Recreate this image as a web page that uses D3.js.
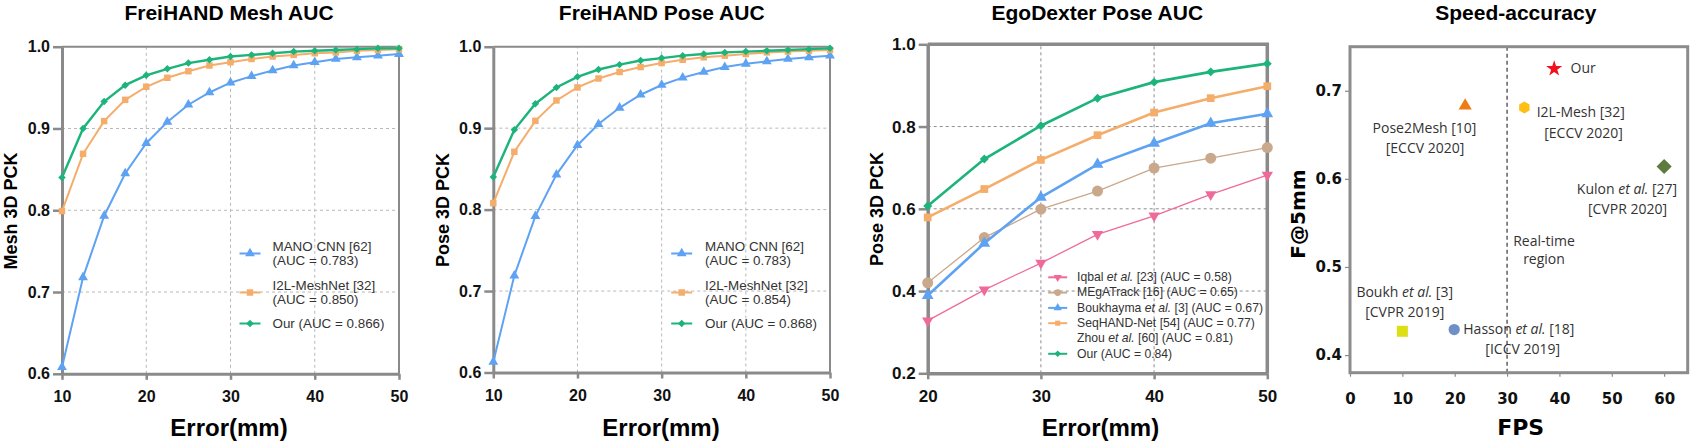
<!DOCTYPE html>
<html lang="en">
<head>
<meta charset="UTF-8">
<title>Hand mesh AUC charts</title>
<script src="https://d3js.org/d3.v7.min.js"></script>
<style>
  body { margin: 0; background: #fff; }
  svg { display: block; }
</style>
</head>
<body>
<div id="chart"></div>
<script>
// ---- data ----
const freiErr = [10, 12.5, 15, 17.5, 20, 22.5, 25, 27.5, 30, 32.5, 35, 37.5, 40, 42.5, 45, 47.5, 50];
const meshMano = [0.608, 0.718, 0.793, 0.845, 0.882, 0.908, 0.929, 0.944, 0.956, 0.964, 0.971, 0.977, 0.981, 0.985, 0.987, 0.989, 0.991];
const meshI2L  = [0.799, 0.869, 0.909, 0.935, 0.951, 0.962, 0.970, 0.977, 0.981, 0.985, 0.988, 0.990, 0.992, 0.993, 0.995, 0.996, 0.997];
const meshOur  = [0.840, 0.900, 0.933, 0.953, 0.965, 0.973, 0.980, 0.984, 0.988, 0.990, 0.992, 0.994, 0.995, 0.996, 0.997, 0.998, 0.998];
const poseMano = [0.613, 0.719, 0.792, 0.843, 0.879, 0.905, 0.925, 0.941, 0.953, 0.962, 0.969, 0.975, 0.979, 0.982, 0.985, 0.987, 0.989];
const poseI2L  = [0.808, 0.871, 0.909, 0.934, 0.950, 0.961, 0.969, 0.975, 0.980, 0.984, 0.987, 0.989, 0.991, 0.993, 0.994, 0.995, 0.996];
const poseOur  = [0.840, 0.898, 0.930, 0.950, 0.963, 0.972, 0.978, 0.983, 0.986, 0.989, 0.991, 0.993, 0.994, 0.995, 0.996, 0.997, 0.998];

const egoErr   = [20, 25, 30, 35, 40, 45, 50];
const egoIqbal = [0.328, 0.403, 0.468, 0.538, 0.583, 0.635, 0.682];
const egoMega  = [0.420, 0.530, 0.599, 0.643, 0.699, 0.723, 0.749];
const egoBoukh = [0.389, 0.516, 0.628, 0.708, 0.759, 0.808, 0.831];
const egoSeq   = [0.579, 0.648, 0.719, 0.779, 0.834, 0.869, 0.898];
const egoOur   = [0.607, 0.721, 0.802, 0.869, 0.908, 0.933, 0.953];

const speedNames = ["Our", "I2L-Mesh", "Pose2Mesh", "Kulon", "Boukh", "Hasson"];
const speedFps   = [39, 33.3, 22, 60, 10, 19.9];
const speedF5    = [0.725, 0.681, 0.683, 0.614, 0.427, 0.429];

const SANS = "'Liberation Sans', Arial, sans-serif";
const WIDE = "'DejaVu Sans', Verdana, sans-serif";
const NOTE = "'Open Sans', 'Noto Sans', sans-serif";
const BLUE = "#5ea2f3", ORANGE = "#f4ad6a", GREEN = "#1cb47b", PINK = "#ef6a9b", TAN = "#c9a88b";

const svg = d3.select("#chart").append("svg").attr("width", 1707).attr("height", 446);

function marker(g, kind, cx, cy, size, color) {
    let type = d3.symbolCircle, rot = 0;
    if (kind === "tri") type = d3.symbolTriangle;
    if (kind === "tridown") { type = d3.symbolTriangle; rot = 180; }
    if (kind === "square") type = d3.symbolSquare;
    if (kind === "diamond") { type = d3.symbolSquare; rot = 45; }
    if (kind === "star") type = d3.symbolStar;
    g.append("path")
        .attr("d", d3.symbol().type(type).size(size)())
        .attr("transform", `translate(${cx},${cy}) rotate(${rot})`)
        .attr("fill", color);
}

function labelText(g, parts, x, y, size, family, anchor) {
    // parts: array of [text, italic]
    const t = g.append("text").attr("x", x).attr("y", y)
        .attr("font-family", family).attr("font-size", size)
        .attr("fill", "#333").attr("text-anchor", anchor || "start");
    parts.forEach(p => t.append("tspan").attr("font-style", p[1] ? "italic" : null).text(p[0]));
    return t;
}

function linePanel(o) {
    const g = svg.append("g");
    const x = d3.scaleLinear().domain(o.xd).range(o.xr);
    const y = d3.scaleLinear().domain(o.yd).range(o.yr);

    // dashed grid
    o.xGrid.forEach(v => g.append("line")
        .attr("x1", x(v)).attr("x2", x(v)).attr("y1", o.yr[0]).attr("y2", o.yr[1])
        .attr("stroke", o.gridColor).attr("stroke-width", 1).attr("stroke-dasharray", "3,3"));
    o.yGrid.forEach(v => g.append("line")
        .attr("y1", y(v)).attr("y2", y(v)).attr("x1", o.xr[0]).attr("x2", o.xr[1])
        .attr("stroke", o.gridColor).attr("stroke-width", 1).attr("stroke-dasharray", "3,3"));

    // top / right border
    g.append("path")
        .attr("d", `M${o.xr[0]},${o.yr[1]}H${o.xr[1]}V${o.yr[0]}`)
        .attr("fill", "none").attr("stroke", "#8a8a8a").attr("stroke-width", o.frameW);

    const ax = g.append("g").attr("transform", `translate(0,${o.yr[0]})`)
        .call(d3.axisBottom(x).tickValues(o.xTicks).tickSize(6).tickSizeOuter(0).tickPadding(o.xPad));
    const ay = g.append("g").attr("transform", `translate(${o.xr[0]},0)`)
        .call(d3.axisLeft(y).tickValues(o.yTicks).tickSize(9).tickSizeOuter(0).tickPadding(3)
            .tickFormat(d3.format(".1f")));
    [ax, ay].forEach(a => {
        a.select(".domain").attr("stroke", "#8a8a8a").attr("stroke-width", o.axisW);
        a.selectAll(".tick line").attr("stroke", "#8a8a8a").attr("stroke-width", 2.5);
        a.selectAll(".tick text").attr("font-family", SANS).attr("font-weight", "bold")
            .attr("font-size", o.tickFont).attr("fill", "#111");
    });

    // series
    o.series.forEach(s => {
        g.append("path").datum(s.values)
            .attr("d", d3.line().x((d, i) => x(o.xs[i])).y(d => y(d)))
            .attr("fill", "none").attr("stroke", s.color).attr("stroke-width", s.width);
        s.values.forEach((v, i) => marker(g, s.shape, x(o.xs[i]), y(v), s.size, s.color));
    });

    // legend
    o.legend.forEach(l => {
        if (l.color) {
            g.append("line").attr("x1", o.legX - o.legLen / 2).attr("x2", o.legX + o.legLen / 2)
                .attr("y1", l.my).attr("y2", l.my).attr("stroke", l.color).attr("stroke-width", 2);
            marker(g, l.shape, o.legX, l.my, l.size, l.color);
        }
        l.lines.forEach((ln, k) => labelText(g, ln, o.legTextX, l.y + k * o.legLead, o.legFont, SANS));
    });

    // titles
    g.append("text").attr("x", o.titleX).attr("y", 19.5).attr("text-anchor", "middle")
        .attr("font-family", SANS).attr("font-weight", "bold").attr("font-size", 21).text(o.title);
    g.append("text").attr("x", o.xLabelX).attr("y", 436).attr("text-anchor", "middle")
        .attr("font-family", SANS).attr("font-weight", "bold").attr("font-size", 24).text("Error(mm)");
    g.append("text").attr("transform", `translate(${o.yLabelX},${o.yLabelY}) rotate(-90)`)
        .attr("text-anchor", "middle").attr("font-family", SANS).attr("font-weight", "bold")
        .attr("font-size", 18).text(o.yLabel);
}

function freiSeries(mano, i2l, our) {
    return [
        { values: mano, color: BLUE, shape: "tri", size: 42, width: 2 },
        { values: i2l, color: ORANGE, shape: "square", size: 42, width: 2 },
        { values: our, color: GREEN, shape: "diamond", size: 28, width: 2.4 }
    ];
}
function freiLegend(i2lAuc, ourAuc) {
    return [
        { color: BLUE, shape: "tri", size: 42, my: 253.5, y: 250.5,
          lines: [[["MANO CNN [62]"]], [["(AUC = 0.783)"]]] },
        { color: ORANGE, shape: "square", size: 42, my: 292.5, y: 289.5,
          lines: [[["I2L-MeshNet [32]"]], [["(AUC = " + i2lAuc + ")"]]] },
        { color: GREEN, shape: "diamond", size: 28, my: 323.5, y: 328.3,
          lines: [[["Our (AUC = " + ourAuc + ")"]]] }
    ];
}

const freiCommon = {
    xd: [10, 50], yd: [0.6, 1.0], xs: freiErr,
    xTicks: [10, 20, 30, 40, 50], yTicks: [0.6, 0.7, 0.8, 0.9, 1.0],
    xGrid: [20, 30, 40], yGrid: [0.7, 0.8, 0.9], gridColor: "#b8b8b8",
    frameW: 2, axisW: 3, tickFont: 16, xPad: 11,
    legLen: 21, legLead: 14.5, legFont: 13.4
};

linePanel(Object.assign({}, freiCommon, {
    xr: [62, 399], yr: [373.8, 46.7],
    series: freiSeries(meshMano, meshI2L, meshOur),
    legX: 250, legTextX: 272.5, legend: freiLegend("0.850", "0.866"),
    title: "FreiHAND Mesh AUC", titleX: 229, xLabelX: 229,
    yLabel: "Mesh 3D PCK", yLabelX: 17, yLabelY: 211
}));

linePanel(Object.assign({}, freiCommon, {
    xr: [493.3, 830], yr: [372.5, 46.7],
    series: freiSeries(poseMano, poseI2L, poseOur),
    legX: 681.7, legTextX: 705, legend: freiLegend("0.854", "0.868"),
    title: "FreiHAND Pose AUC", titleX: 661.7, xLabelX: 661,
    yLabel: "Pose 3D PCK", yLabelX: 449, yLabelY: 210
}));

linePanel({
    xd: [20, 50], yd: [0.2, 1.0], xs: egoErr,
    xr: [927.7, 1267.3], yr: [373.3, 44.3],
    xTicks: [20, 30, 40, 50], yTicks: [0.2, 0.4, 0.6, 0.8, 1.0],
    xGrid: [30, 40], yGrid: [0.4, 0.6, 0.8], gridColor: "#8c8c8c",
    frameW: 3.5, axisW: 3.5, tickFont: 17, xPad: 11,
    series: [
        { values: egoIqbal, color: PINK, shape: "tridown", size: 55, width: 1.3 },
        { values: egoMega, color: TAN, shape: "circle", size: 95, width: 1.3 },
        { values: egoBoukh, color: BLUE, shape: "tri", size: 60, width: 2.6 },
        { values: egoSeq, color: ORANGE, shape: "square", size: 60, width: 2.6 },
        { values: egoOur, color: GREEN, shape: "diamond", size: 40, width: 2.6 }
    ],
    legX: 1057.7, legTextX: 1077, legLen: 19, legLead: 0, legFont: 12.2,
    legend: [
        { color: PINK, shape: "tridown", size: 30, my: 277.3, y: 281, lines: [[["Iqbal "], ["et al.", true], [" [23] (AUC = 0.58)"]]] },
        { color: TAN, shape: "circle", size: 35, my: 292.6, y: 296.3, lines: [[["MEgATrack [16] (AUC = 0.65)"]]] },
        { color: BLUE, shape: "tri", size: 30, my: 307.9, y: 311.6, lines: [[["Boukhayma "], ["et al.", true], [" [3] (AUC = 0.67)"]]] },
        { color: ORANGE, shape: "square", size: 26, my: 323.2, y: 326.9, lines: [[["SeqHAND-Net [54] (AUC = 0.77)"]]] },
        { color: null, my: 338.5, y: 342.2, lines: [[["Zhou "], ["et al.", true], [" [60] (AUC = 0.81)"]]] },
        { color: GREEN, shape: "diamond", size: 22, my: 353.8, y: 357.5, lines: [[["Our (AUC = 0.84)"]]] }
    ],
    title: "EgoDexter Pose AUC", titleX: 1097.3, xLabelX: 1100.5,
    yLabel: "Pose 3D PCK", yLabelX: 883, yLabelY: 209
});

// ---- speed-accuracy scatter ----
(function () {
    const g = svg.append("g");
    const x = d3.scaleLinear().domain([0, 64.5]).range([1350, 1687.7]);
    const y = d3.scaleLinear().domain([0.38, 0.75]).range([372.7, 46.7]);

    g.append("line").attr("x1", x(30)).attr("x2", x(30)).attr("y1", y(0.38)).attr("y2", y(0.75))
        .attr("stroke", "#555").attr("stroke-width", 1.4).attr("stroke-dasharray", "4,3");

    const ax = g.append("g").attr("transform", `translate(0,${y(0.38)})`)
        .call(d3.axisBottom(x).tickValues([0, 10, 20, 30, 40, 50, 60]).tickSize(4).tickSizeOuter(0).tickPadding(17));
    const ay = g.append("g").attr("transform", `translate(${x(0)},0)`)
        .call(d3.axisLeft(y).tickValues([0.4, 0.5, 0.6, 0.7]).tickSize(5).tickSizeOuter(0).tickPadding(3)
            .tickFormat(d3.format(".1f")));
    [ax, ay].forEach(a => {
        a.select(".domain").remove();
        a.selectAll(".tick line").attr("stroke", "#8a8a8a").attr("stroke-width", 1.2);
        a.selectAll(".tick text").attr("font-family", WIDE).attr("font-weight", "bold")
            .attr("font-size", 15).attr("fill", "#111");
    });
    g.append("rect").attr("x", x(0)).attr("y", y(0.75))
        .attr("width", x(64.5) - x(0)).attr("height", y(0.38) - y(0.75))
        .attr("fill", "none").attr("stroke", "#8c8c8c").attr("stroke-width", 3);

    const shapes = ["star", "hex", "tri", "diamond", "square", "circle"];
    const colors = ["#f2101c", "#ffbf16", "#ef7b13", "#5d7b3d", "#dede14", "#6f8fc7"];
    const sizes = [80, 0, 75, 115, 121, 100];
    speedNames.forEach((n, i) => {
        const cx = x(speedFps[i]), cy = y(speedF5[i]);
        if (shapes[i] === "hex") {
            const r = 6;
            const pts = d3.range(6).map(k => [cx + r * Math.cos(Math.PI / 3 * k + Math.PI / 6), cy + r * Math.sin(Math.PI / 3 * k + Math.PI / 6)]);
            g.append("polygon").attr("points", pts.map(p => p.join(",")).join(" ")).attr("fill", colors[i]);
        } else {
            marker(g, shapes[i], cx, cy, sizes[i], colors[i]);
        }
    });

    const notes = [
        { x: 1570.5, y: 73, a: "start", parts: [["Our"]] },
        { x: 1536.7, y: 117, a: "start", parts: [["I2L-Mesh [32]"]] },
        { x: 1583.5, y: 137.5, a: "middle", parts: [["[ECCV 2020]"]] },
        { x: 1424.5, y: 132.5, a: "middle", parts: [["Pose2Mesh [10]"]] },
        { x: 1425, y: 153, a: "middle", parts: [["[ECCV 2020]"]] },
        { x: 1627, y: 193.5, a: "middle", parts: [["Kulon "], ["et al.", true], [" [27]"]] },
        { x: 1627.5, y: 213.5, a: "middle", parts: [["[CVPR 2020]"]] },
        { x: 1544, y: 245.5, a: "middle", parts: [["Real-time"]] },
        { x: 1544, y: 264, a: "middle", parts: [["region"]] },
        { x: 1404.7, y: 297, a: "middle", parts: [["Boukh "], ["et al.", true], [" [3]"]] },
        { x: 1404.7, y: 317, a: "middle", parts: [["[CVPR 2019]"]] },
        { x: 1463.3, y: 333.5, a: "start", parts: [["Hasson "], ["et al.", true], [" [18]"]] },
        { x: 1522.7, y: 353.5, a: "middle", parts: [["[ICCV 2019]"]] }
    ];
    notes.forEach(n => labelText(g, n.parts, n.x, n.y, 14, NOTE, n.a));

    g.append("text").attr("x", 1515.8).attr("y", 19.5).attr("text-anchor", "middle")
        .attr("font-family", SANS).attr("font-weight", "bold").attr("font-size", 21).text("Speed-accuracy");
    g.append("text").attr("x", 1520.7).attr("y", 435).attr("text-anchor", "middle")
        .attr("font-family", WIDE).attr("font-weight", "bold").attr("font-size", 22).text("FPS");
    g.append("text").attr("transform", "translate(1305,214) rotate(-90)").attr("text-anchor", "middle")
        .attr("font-family", WIDE).attr("font-weight", "bold").attr("font-size", 20).text("F@5mm");
})();
</script>
</body>
</html>
